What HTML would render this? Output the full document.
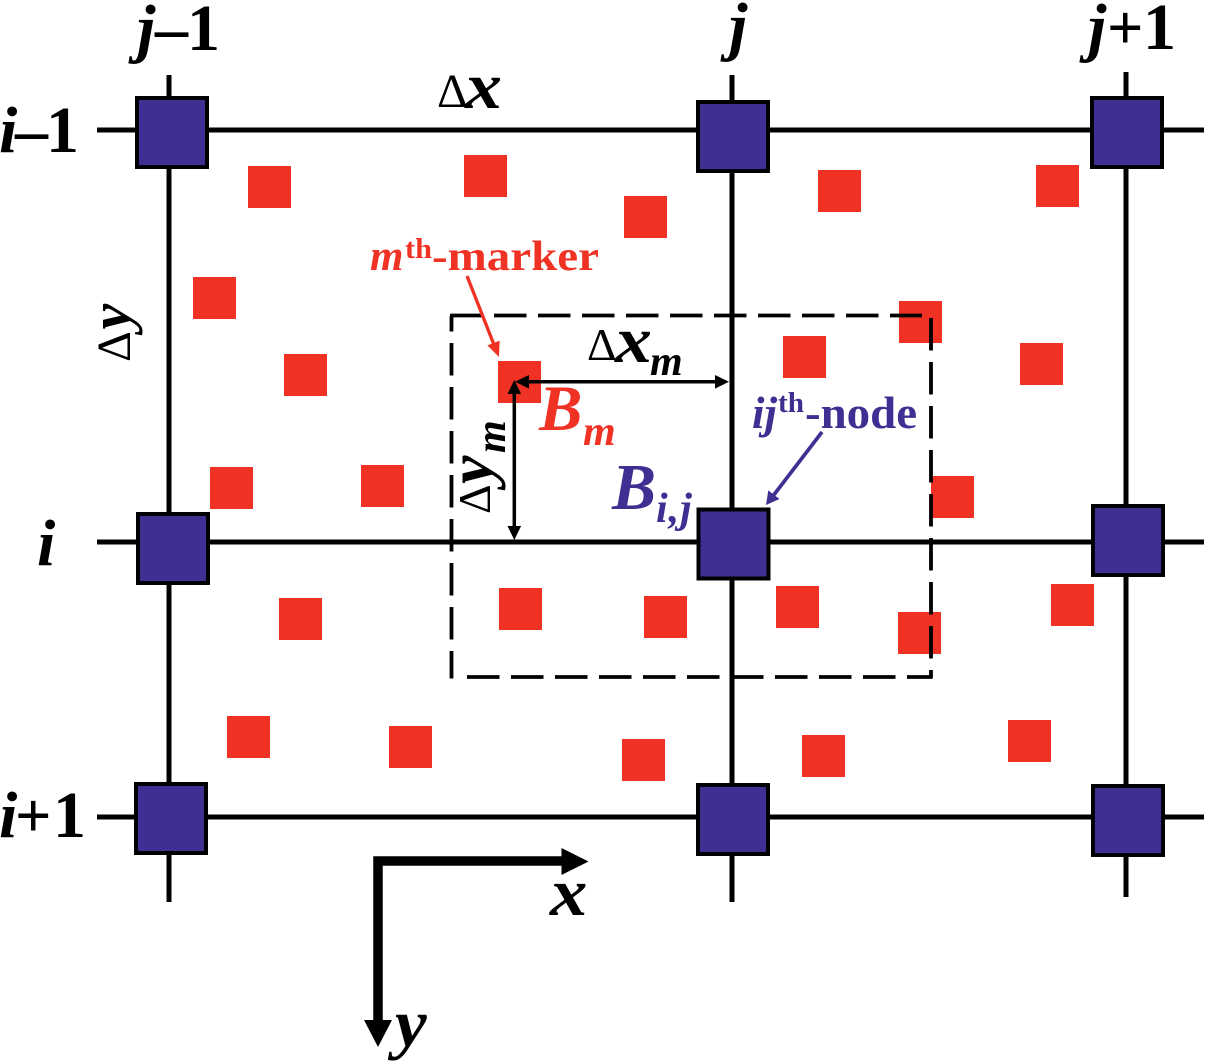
<!DOCTYPE html>
<html>
<head>
<meta charset="utf-8">
<style>
html,body{margin:0;padding:0;background:#fff;width:1205px;height:1062px;overflow:hidden}
svg{display:block}
text{font-family:"Liberation Serif",serif;font-weight:bold}
.it{font-style:italic}
.d{font-weight:normal}
</style>
</head>
<body>
<svg width="1205" height="1062" viewBox="0 0 1205 1062" xmlns="http://www.w3.org/2000/svg">
<g stroke="#000" stroke-width="5" fill="none">
<line x1="97" y1="130" x2="1204" y2="130"/>
<line x1="97" y1="542" x2="1204" y2="542"/>
<line x1="97" y1="817" x2="1204" y2="817"/>
<line x1="169" y1="75" x2="169" y2="902"/>
<line x1="732" y1="75" x2="732" y2="902"/>
<line x1="1126" y1="72" x2="1126" y2="897"/>
</g>
<g fill="#f03225">
<rect x="248" y="166" width="43" height="42"/><rect x="464" y="155" width="43" height="42"/><rect x="624" y="196" width="43" height="42"/><rect x="818" y="170" width="43" height="42"/><rect x="1036" y="165" width="43" height="42"/>
<rect x="193" y="277" width="43" height="42"/><rect x="284" y="354" width="43" height="42"/><rect x="498" y="361" width="43" height="42"/><rect x="783" y="336" width="43" height="42"/><rect x="899" y="301" width="43" height="42"/><rect x="1020" y="343" width="43" height="42"/>
<rect x="210" y="467" width="43" height="42"/><rect x="361" y="465" width="43" height="42"/><rect x="931" y="476" width="43" height="42"/>
<rect x="279" y="598" width="43" height="42"/><rect x="499" y="588" width="43" height="42"/><rect x="644" y="596" width="43" height="42"/><rect x="776" y="586" width="43" height="42"/><rect x="898" y="612" width="43" height="42"/><rect x="1051" y="584" width="43" height="42"/>
<rect x="227" y="716" width="43" height="42"/><rect x="389" y="726" width="43" height="42"/><rect x="622" y="739" width="43" height="42"/><rect x="802" y="735" width="43" height="42"/><rect x="1008" y="720" width="43" height="42"/>
</g>
<g stroke="#000" stroke-width="3.800" fill="none" stroke-dasharray="32.500 11.500">
<line x1="450" y1="315.500" x2="922" y2="315.500"/>
<line x1="931" y1="318" x2="931" y2="678"/>
<line x1="467" y1="677" x2="932.500" y2="677"/>
<line x1="451.500" y1="316" x2="451.500" y2="678.500" stroke-dashoffset="17"/>
</g>
<g fill="#3d3092" stroke="#000" stroke-width="4">
<rect x="137" y="98" width="70" height="69"/><rect x="698" y="102" width="70" height="69"/><rect x="1092" y="98" width="70" height="69"/>
<rect x="138" y="514" width="70" height="69"/><rect x="698.500" y="509.500" width="70" height="69"/><rect x="1093" y="506" width="70" height="69"/>
<rect x="136" y="784" width="70" height="69"/><rect x="698" y="785" width="70" height="69"/><rect x="1093" y="786" width="70" height="69"/>
</g>
<g stroke="#000" stroke-width="3.500" fill="none">
<line x1="525" y1="381.800" x2="720" y2="381.800"/>
<line x1="514.300" y1="392" x2="514.300" y2="530"/>
</g>
<g fill="#000">
<path d="M515,381.800 L529,375 L529,388.600 Z"/>
<path d="M729,381.800 L715,375 L715,388.600 Z"/>
<path d="M514.300,380 L507.500,394 L521.100,394 Z"/>
<path d="M514.300,540 L507.500,526 L521.100,526 Z"/>
</g>
<line x1="467" y1="276" x2="494.500" y2="346" stroke="#f03225" stroke-width="3.300"/>
<path d="M499,357 L499.600,340.600 L487.400,345.400 Z" fill="#f03225"/>
<line x1="822" y1="432" x2="773" y2="496" stroke="#3d3092" stroke-width="3.700"/>
<path d="M766,505 L779.500,499 L768.300,490.400 Z" fill="#3d3092"/>
<path d="M378,1024 V861 H566" fill="none" stroke="#000" stroke-width="9.500"/>
<path d="M561.500,848 L588.500,861.500 L561.500,875 Z" fill="#000"/>
<path d="M364,1020 L378,1047 L392,1020 Z" fill="#000"/>

<text x="137" y="50" font-size="66" class="it">j</text><text x="155" y="50" font-size="66">–</text><text x="187" y="50" font-size="66">1</text>
<text x="729" y="48" font-size="66" class="it">j</text>
<text x="1088" y="49" font-size="66" class="it">j</text><text x="1107" y="49" font-size="64">+</text><text x="1143" y="49" font-size="66">1</text>
<text x="-1" y="152" font-size="66" class="it">i</text><text x="15" y="152" font-size="66">–</text><text x="46" y="152" font-size="66">1</text>
<text x="37" y="565" font-size="66" class="it">i</text>
<text x="-1" y="837" font-size="66" class="it">i</text><text x="15" y="837" font-size="64">+</text><text x="53" y="837" font-size="66">1</text>

<text x="437" y="107" font-size="48" class="d">Δ</text>
<text transform="translate(465,108) scale(1.120,1)" font-size="66" class="it">x</text>

<text transform="translate(130,362) rotate(-90)" font-size="48" class="d">Δ</text>
<text transform="translate(130,329.500) rotate(-90)" font-size="58" class="it">y</text>

<text x="370" y="270" font-size="43" fill="#f03225" class="it">m</text>
<text x="405" y="258" font-size="28" fill="#f03225" textLength="27" lengthAdjust="spacingAndGlyphs">th</text>
<text x="432" y="270" font-size="42" fill="#f03225" textLength="167" lengthAdjust="spacingAndGlyphs">-marker</text>

<text x="587" y="360" font-size="46" class="d">Δ</text>
<text transform="translate(615,362) scale(1.120,1)" font-size="66" class="it">x</text>
<text x="650" y="375" font-size="42" class="it">m</text>

<text transform="translate(490,514) rotate(-90)" font-size="46" class="d">Δ</text>
<text transform="translate(492,484) rotate(-90)" font-size="64" class="it">y</text>
<text transform="translate(505,453) rotate(-90)" font-size="42" class="it">m</text>

<text x="539" y="430" font-size="65" fill="#f03225" class="it">B</text>
<text x="583" y="445" font-size="42" fill="#f03225" class="it">m</text>

<text x="752" y="428" font-size="45" fill="#3d3092" class="it">ij</text>
<text x="778" y="412" font-size="28" fill="#3d3092" textLength="26" lengthAdjust="spacingAndGlyphs">th</text>
<text x="805" y="428" font-size="46" fill="#3d3092" textLength="112" lengthAdjust="spacingAndGlyphs">-node</text>

<text x="612" y="509" font-size="66" fill="#3d3092" class="it">B</text>
<text x="656" y="522" font-size="42" fill="#3d3092" class="it" letter-spacing="1">i,j</text>

<text transform="translate(550,915) scale(1.100,1)" font-size="68" class="it">x</text>
<text transform="translate(395,1046) scale(1.050,1)" font-size="68" class="it">y</text>
</svg>
</body>
</html>
